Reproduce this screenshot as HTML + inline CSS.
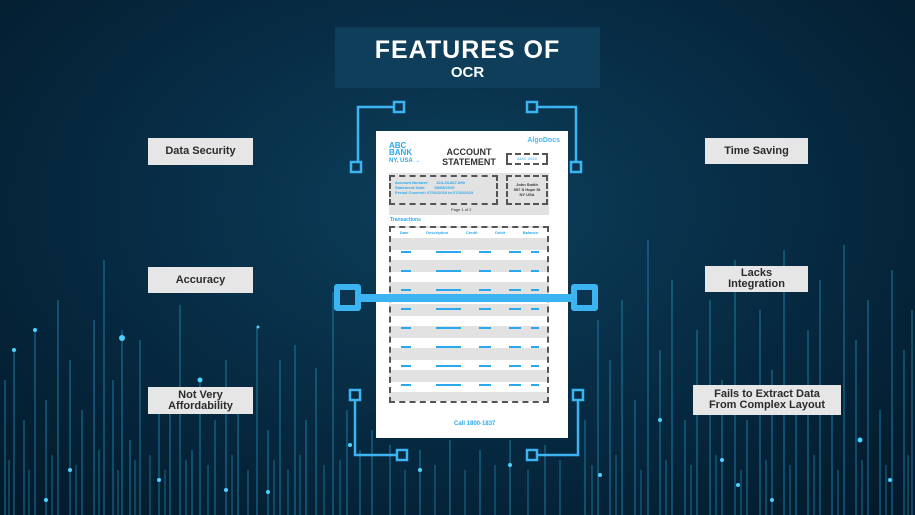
<!DOCTYPE html>
<html><head><meta charset="utf-8"><style>
*{margin:0;padding:0;box-sizing:border-box}
body{width:915px;height:515px;overflow:hidden;font-family:"Liberation Sans",sans-serif;position:relative;background:radial-gradient(ellipse 70% 80% at 50% 40%,#0d3f5c 0%,#072c44 50%,#031a2b 100%)}
.lbl{position:absolute;background:#e6e6e6;color:#2b2b2b;font-weight:bold;font-size:11px;text-align:center;display:flex;align-items:center;justify-content:center;line-height:11px}
.title{position:absolute;left:335px;top:27px;width:265px;height:61px;background:#0f3e5b;color:#fff;text-align:center;font-weight:bold}
.doc{position:absolute;left:376px;top:131px;width:192px;height:307px;background:#fff}
.t{position:absolute;font-size:5px;color:#2aa8ee;font-weight:bold}
</style></head><body>
<svg width="915" height="515" style="position:absolute;left:0;top:0">
<g stroke="#1e8fc0" stroke-width="1" opacity="0.8">
<line x1="5" y1="380" x2="5" y2="515"/><line x1="14" y1="350" x2="14" y2="515"/><line x1="24" y1="420" x2="24" y2="515"/><line x1="35" y1="330" x2="35" y2="515"/><line x1="46" y1="400" x2="46" y2="515"/><line x1="58" y1="300" x2="58" y2="515"/><line x1="70" y1="360" x2="70" y2="515"/><line x1="82" y1="410" x2="82" y2="515"/><line x1="94" y1="320" x2="94" y2="515"/><line x1="104" y1="260" x2="104" y2="515"/><line x1="113" y1="380" x2="113" y2="515"/><line x1="122" y1="330" x2="122" y2="515"/><line x1="130" y1="440" x2="130" y2="515"/><line x1="140" y1="340" x2="140" y2="515"/><line x1="159" y1="400" x2="159" y2="515"/><line x1="170" y1="390" x2="170" y2="515"/><line x1="180" y1="305" x2="180" y2="515"/><line x1="192" y1="450" x2="192" y2="515"/><line x1="200" y1="380" x2="200" y2="515"/><line x1="215" y1="420" x2="215" y2="515"/><line x1="226" y1="360" x2="226" y2="515"/><line x1="238" y1="395" x2="238" y2="515"/><line x1="257" y1="327" x2="257" y2="515"/><line x1="268" y1="430" x2="268" y2="515"/><line x1="280" y1="360" x2="280" y2="515"/><line x1="295" y1="345" x2="295" y2="515"/><line x1="306" y1="420" x2="306" y2="515"/><line x1="316" y1="368" x2="316" y2="515"/><line x1="333" y1="292" x2="333" y2="515"/><line x1="347" y1="410" x2="347" y2="515"/><line x1="360" y1="450" x2="360" y2="515"/><line x1="372" y1="430" x2="372" y2="515"/>
<line x1="390" y1="445" x2="390" y2="515"/><line x1="420" y1="450" x2="420" y2="515"/><line x1="450" y1="440" x2="450" y2="515"/><line x1="480" y1="450" x2="480" y2="515"/><line x1="510" y1="440" x2="510" y2="515"/><line x1="545" y1="445" x2="545" y2="515"/>
<line x1="585" y1="420" x2="585" y2="515"/><line x1="598" y1="320" x2="598" y2="515"/><line x1="610" y1="360" x2="610" y2="515"/><line x1="622" y1="300" x2="622" y2="515"/><line x1="635" y1="400" x2="635" y2="515"/><line x1="648" y1="240" x2="648" y2="515"/><line x1="660" y1="350" x2="660" y2="515"/><line x1="672" y1="280" x2="672" y2="515"/><line x1="685" y1="420" x2="685" y2="515"/><line x1="697" y1="330" x2="697" y2="515"/><line x1="710" y1="300" x2="710" y2="515"/><line x1="722" y1="380" x2="722" y2="515"/><line x1="735" y1="260" x2="735" y2="515"/><line x1="747" y1="420" x2="747" y2="515"/><line x1="760" y1="310" x2="760" y2="515"/><line x1="772" y1="370" x2="772" y2="515"/><line x1="784" y1="250" x2="784" y2="515"/><line x1="796" y1="400" x2="796" y2="515"/><line x1="808" y1="330" x2="808" y2="515"/><line x1="820" y1="280" x2="820" y2="515"/><line x1="832" y1="390" x2="832" y2="515"/><line x1="844" y1="245" x2="844" y2="515"/><line x1="856" y1="340" x2="856" y2="515"/><line x1="868" y1="300" x2="868" y2="515"/><line x1="880" y1="410" x2="880" y2="515"/><line x1="892" y1="270" x2="892" y2="515"/><line x1="904" y1="350" x2="904" y2="515"/><line x1="912" y1="310" x2="912" y2="515"/>
</g>
<g stroke="#2aa0d0" stroke-width="1" opacity="0.6">
<line x1="9" y1="460" x2="9" y2="515"/><line x1="29" y1="470" x2="29" y2="515"/><line x1="52" y1="455" x2="52" y2="515"/><line x1="76" y1="465" x2="76" y2="515"/><line x1="99" y1="450" x2="99" y2="515"/><line x1="118" y1="470" x2="118" y2="515"/><line x1="135" y1="460" x2="135" y2="515"/><line x1="150" y1="455" x2="150" y2="515"/><line x1="165" y1="470" x2="165" y2="515"/><line x1="186" y1="460" x2="186" y2="515"/><line x1="208" y1="465" x2="208" y2="515"/><line x1="232" y1="455" x2="232" y2="515"/><line x1="248" y1="470" x2="248" y2="515"/><line x1="274" y1="460" x2="274" y2="515"/><line x1="288" y1="470" x2="288" y2="515"/><line x1="300" y1="455" x2="300" y2="515"/><line x1="324" y1="465" x2="324" y2="515"/><line x1="340" y1="460" x2="340" y2="515"/><line x1="405" y1="470" x2="405" y2="515"/><line x1="435" y1="465" x2="435" y2="515"/><line x1="465" y1="470" x2="465" y2="515"/><line x1="495" y1="465" x2="495" y2="515"/><line x1="528" y1="470" x2="528" y2="515"/><line x1="560" y1="460" x2="560" y2="515"/><line x1="592" y1="465" x2="592" y2="515"/><line x1="616" y1="455" x2="616" y2="515"/><line x1="641" y1="470" x2="641" y2="515"/><line x1="666" y1="460" x2="666" y2="515"/><line x1="691" y1="465" x2="691" y2="515"/><line x1="716" y1="455" x2="716" y2="515"/><line x1="741" y1="470" x2="741" y2="515"/><line x1="766" y1="460" x2="766" y2="515"/><line x1="790" y1="465" x2="790" y2="515"/><line x1="814" y1="455" x2="814" y2="515"/><line x1="838" y1="470" x2="838" y2="515"/><line x1="862" y1="460" x2="862" y2="515"/><line x1="886" y1="465" x2="886" y2="515"/><line x1="908" y1="455" x2="908" y2="515"/>
</g>
<g fill="#4fd0ff">
<circle cx="122" cy="338" r="3"/><circle cx="200" cy="380" r="2.5"/><circle cx="35" cy="330" r="2"/><circle cx="258" cy="327" r="1.5"/><circle cx="14" cy="350" r="2"/><circle cx="350" cy="445" r="2"/><circle cx="70" cy="470" r="2"/><circle cx="159" cy="480" r="2"/><circle cx="226" cy="490" r="2"/><circle cx="810" cy="410" r="2.5"/><circle cx="860" cy="440" r="2.5"/><circle cx="722" cy="460" r="2"/><circle cx="660" cy="420" r="2"/><circle cx="890" cy="480" r="2"/><circle cx="600" cy="475" r="2"/><circle cx="46" cy="500" r="2"/><circle cx="772" cy="500" r="2"/><circle cx="420" cy="470" r="2"/><circle cx="510" cy="465" r="2"/><circle cx="738" cy="485" r="2"/><circle cx="268" cy="492" r="2"/>
</g>
<g stroke="#3db4f2" stroke-width="2.5" fill="none">
<polyline points="394,107 358,107 358,163"/><rect x="394" y="102" width="10" height="10" fill="#0b3550"/><rect x="351" y="162" width="10" height="10" fill="#0b3550"/>
<polyline points="536,107 576,107 576,163"/><rect x="527" y="102" width="10" height="10" fill="#0b3550"/><rect x="571" y="162" width="10" height="10" fill="#0b3550"/>
<polyline points="355,400 355,455 397,455"/><rect x="350" y="390" width="10" height="10" fill="#082a40"/><rect x="397" y="450" width="10" height="10" fill="#082a40"/>
<polyline points="578,400 578,455 537,455"/><rect x="573" y="390" width="10" height="10" fill="#082a40"/><rect x="527" y="450" width="10" height="10" fill="#082a40"/>
</g>
</svg>
<div class="title"><div style="font-size:25px;line-height:28px;margin-top:9px;letter-spacing:1px">FEATURES OF</div><div style="font-size:15px;line-height:18px">OCR</div></div>

<div class="doc">
<div style="position:absolute;right:8px;top:6px;font-size:7px;color:#4ab8f0;font-weight:bold">AlgoDocs</div>
<div style="position:absolute;left:13px;top:11px;font-size:8px;color:#2aa8ee;font-weight:bold;line-height:7px">ABC<br>BANK<br><span style="font-size:6px">NY, USA →</span></div>
<div style="position:absolute;left:58px;top:16px;width:70px;text-align:center;font-size:9px;font-weight:bold;color:#333;line-height:10px">ACCOUNT<br>STATEMENT</div>
<div style="position:absolute;left:130px;top:22px;width:42px;height:12px;border:2px dashed #555;font-size:4px;color:#2aa8ee;text-align:center;line-height:8px">AUG, 2019</div>
<div style="position:absolute;left:13px;top:42px;width:160px;height:42px;background:#e2e2e2"></div>
<div style="position:absolute;left:13px;top:44px;width:109px;height:30px;border:2px dashed #555;font-size:4px;color:#2aa8ee;padding:3px 4px;line-height:5px;font-weight:bold">Account Number:&nbsp;&nbsp;&nbsp;&nbsp;&nbsp;&nbsp;&nbsp;224-33-867-890<br>Statement Date:&nbsp;&nbsp;&nbsp;&nbsp;&nbsp;&nbsp;&nbsp;&nbsp;08/05/2019<br>Period Covered: 07/01/2019 to 07/31/2019</div>
<div style="position:absolute;left:130px;top:44px;width:42px;height:30px;border:2px dashed #555;font-size:4px;color:#333;text-align:center;padding-top:5px;line-height:5px;font-weight:bold">John Smith<br>557 S Hope St<br>NY USA</div>
<div style="position:absolute;left:75px;top:76px;font-size:4px;color:#333">Page 1 of 2</div>
<div class="t" style="left:14px;top:86px">Transactions</div>
<div style="position:absolute;left:13px;top:95px;width:160px;height:177px;border:2px dashed #555;background:repeating-linear-gradient(#fff 0 10px,#e2e2e2 10px 22px)"></div>
<div style="position:absolute;left:15px;top:99px;width:156px;font-size:4px;color:#2aa8ee;font-weight:bold;display:flex;justify-content:space-around">Date<span>Description</span><span>Credit</span><span>Debit</span><span>Balance</span></div>
<div style="position:absolute;left:15px;top:108px;width:156px;height:160px;background:repeating-linear-gradient(transparent 0 12px,#2aa8ee 12px 14px,transparent 14px 19px);-webkit-mask:linear-gradient(90deg,transparent 0 10px,#000 10px 20px,transparent 20px 45px,#000 45px 70px,transparent 70px 88px,#000 88px 100px,transparent 100px 118px,#000 118px 130px,transparent 130px 140px,#000 140px 148px,transparent 148px)"></div>
<div style="position:absolute;left:78px;top:290px;font-size:6px;color:#2aa8ee;font-weight:bold">Call 1800-1837</div>
</div>

<div style="position:absolute;left:360px;top:294px;width:212px;height:8px;background:#3db4f2"></div>
<div style="position:absolute;left:334px;top:284px;width:27px;height:27px;border:6px solid #3db4f2;border-radius:3px;background:#0b3550"></div>
<div style="position:absolute;left:571px;top:284px;width:27px;height:27px;border:6px solid #3db4f2;border-radius:3px;background:#0b3550"></div>

<div class="lbl" style="left:148px;top:138px;width:105px;height:27px">Data Security</div>
<div class="lbl" style="left:148px;top:267px;width:105px;height:26px">Accuracy</div>
<div class="lbl" style="left:148px;top:387px;width:105px;height:27px">Not Very<br>Affordability</div>
<div class="lbl" style="left:705px;top:138px;width:103px;height:26px">Time Saving</div>
<div class="lbl" style="left:705px;top:266px;width:103px;height:26px">Lacks<br>Integration</div>
<div class="lbl" style="left:693px;top:385px;width:148px;height:30px">Fails to Extract Data<br>From Complex Layout</div>
</body></html>
